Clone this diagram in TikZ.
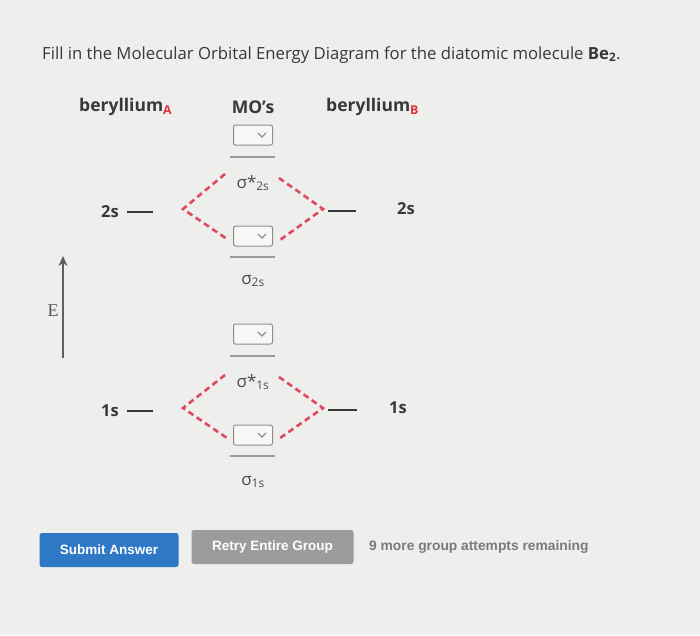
\documentclass[tikz,border=0pt]{standalone}
\usepackage{fontspec}
\setmainfont{Open Sans}
\newfontfamily\btnfont{Liberation Sans}
\newfontfamily\efont{Liberation Serif}
\usetikzlibrary{arrows,arrows.meta}
\definecolor{bgpage}{HTML}{EEEEEC}
\definecolor{txtdark}{HTML}{383838}
\definecolor{tagred}{HTML}{E0303A}
\definecolor{linkred}{HTML}{DD4A5E}
\definecolor{lvlgray}{HTML}{9A9A9A}
\definecolor{boxedge}{HTML}{8E8E8E}
\definecolor{submitblue}{HTML}{2F78C6}
\definecolor{retrygray}{HTML}{9C9C9C}
\definecolor{notegray}{HTML}{7A7A7A}

\tikzset{
  head/.style={inner sep=0pt, text=txtdark, font=\bfseries\fontsize{17.5}{20}\selectfont},
  aolabel/.style={inner sep=0pt, text=txtdark, font=\bfseries\fontsize{16.5}{19}\selectfont},
  molabel/.style={inner sep=0pt, text=txtdark!90, font=\fontsize{17}{20}\selectfont},
  mo line/.style={draw=lvlgray, line width=1.4pt},
  ao line/.style={draw=txtdark, line width=2pt},
  link/.style={draw=linkred, line width=2.6pt, dash pattern=on 6pt off 4pt},
  choice/.style={draw=boxedge, fill=white!55!bgpage, rounded corners=2pt, line width=1pt,
    minimum width=39pt, minimum height=20pt, inner sep=0pt},
  chev/.style={draw=boxedge, line width=1.1pt},
  button/.style={rounded corners=2.5pt, text=white, minimum height=34pt,
    font=\btnfont\bfseries\fontsize{13.5}{16}\selectfont},
}

\begin{document}
\begin{tikzpicture}[x=1pt,y=-1pt]
    \fill[bgpage] (0,0) rectangle (700,635);
    \useasboundingbox (0,0) rectangle (700,635);
    % heading
    \node[anchor=west, inner sep=0pt, text=txtdark, font=\fontsize{16.7}{20}\selectfont] (title) at (42,55)
        {Fill in the Molecular Orbital Energy Diagram for the diatomic molecule \textbf{Be\textsubscript{2}}.};
    \node[head, anchor=west] (atomA) at (79,107) {beryllium\textsubscript{\color{tagred}A}};
    \node[head] (mos) at (253,107) {MO's};
    \node[head, anchor=west] (atomB) at (326,107) {beryllium\textsubscript{\color{tagred}B}};
    % energy axis
    \coordinate (Ebot) at (63,358);
    \coordinate (Etop) at (63,256);
    \draw[-{Stealth[length=10pt,width=9pt,inset=3pt]}, draw=txtdark!80, line width=1.6pt] (Ebot) -- (Etop);
    \node[inner sep=0pt, text=txtdark!85, font=\efont\fontsize{18}{21}\selectfont] (Elab) at (53,311) {E};
    % molecular orbitals: box, level, label
    \foreach \nm/\yb/\yl/\yt/\lab in {s2a/135/157/183/{σ*\textsubscript{2s}},
                                       s2b/236/257/281/{σ\textsubscript{2s}},
                                       s1a/334/356/382/{σ*\textsubscript{1s}},
                                       s1b/435/456/482/{σ\textsubscript{1s}}} {
        \node[choice] (\nm-box) at (253,\yb) {};
        \draw[chev] ([xshift=-11pt]\nm-box.east) ++(-4,-2) -- ++(4,4) -- ++(4,-4);
        \draw[mo line] (230,\yl) -- (275,\yl);
        \node[molabel] (\nm-lab) at (253,\yt) {\lab};
    }
    % atomic orbitals
    \node[aolabel] (a2sA) at (110,212) {2s};
    \draw[ao line] (127,212) -- (153,212);
    \node[aolabel] (a2sB) at (406,209) {2s};
    \draw[ao line] (328,211) -- (356,211);
    \node[aolabel] (a1sA) at (110,411) {1s};
    \draw[ao line] (127,411) -- (153,411);
    \node[aolabel] (a1sB) at (398,408) {1s};
    \draw[ao line] (328,410) -- (357,410);
    % correlation lines
    \coordinate (v2L) at (183,209);
    \coordinate (v2R) at (323,209);
    \coordinate (v1L) at (183,408);
    \coordinate (v1R) at (323,408);
    \draw[link] (225,174) -- (v2L) -- (227,239);
    \draw[link] (279,178) -- (v2R) -- (280,240);
    \draw[link] (225,375) -- (v1L) -- (227,438);
    \draw[link] (279,377) -- (v1R) -- (280,438);
    % buttons
    \node[button, fill=submitblue, minimum width=139pt] (submit) at (109,550) {Submit Answer};
    \node[button, fill=retrygray, minimum width=162pt] (retry) at (272.5,547) {Retry Entire Group};
    \node[anchor=west, inner sep=0pt, text=notegray, font=\btnfont\bfseries\fontsize{13.8}{16}\selectfont] (tries) at (369,547)
        {9 more group attempts remaining};
\end{tikzpicture}
\end{document}
